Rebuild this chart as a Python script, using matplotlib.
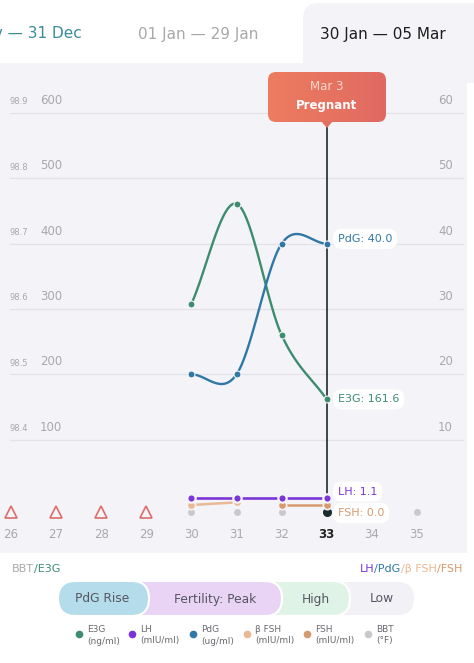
import numpy as np
import matplotlib
matplotlib.use('Agg')
import matplotlib.pyplot as plt
from matplotlib.patches import FancyBboxPatch, Rectangle, Polygon
from matplotlib.colors import LinearSegmentedColormap
from matplotlib.transforms import blended_transform_factory

plt.rcParams['font.family'] = ['DejaVu Sans']

# ---- data ----
days = [26, 27, 28, 29, 30, 31, 32, 33, 34, 35]
today = 33
today_label = 'Mar 3'
status = 'Pregnant'

hormone_days = [30, 31, 32, 33]
e3g = [308, 461, 260, 161.6]        # ng/ml, left axis
pdg = [20.0, 20.0, 40.0, 40.0]      # ug/ml, right axis
lh = [1.1, 1.1, 1.1, 1.1]           # mIU/ml, right axis
bfsh_days = [30, 31]
bfsh = [0.0, 0.4]
fsh_days = [32, 33]
fsh = [0.0, 0.0]
bbt_days = [30, 31, 32, 33, 35]     # logged, no temperature value
missing_days = [26, 27, 28, 29]

e3g_ticks = [100, 200, 300, 400, 500, 600]
bbt_ticks = [98.4, 98.5, 98.6, 98.7, 98.8, 98.9]
pdg_ticks = [10, 20, 30, 40, 50, 60]

date_ranges = ['Nov — 31 Dec', '01 Jan — 29 Jan', '30 Jan — 05 Mar']
phases = ['PdG Rise', 'Fertility: Peak', 'High', 'Low']
legend_names = ['E3G', 'LH', 'PdG', 'β FSH', 'FSH', 'BBT']
legend_units = ['(ng/ml)', '(mIU/ml)', '(ug/ml)', '(mIU/ml)', '(mIU/ml)', '(°F)']

# ---- colours ----
C_E3G = '#3d8c6e'
C_LH = '#7b35d6'
C_PDG = '#2f78a6'
C_BFSH = '#eab894'
C_FSH = '#d69a6e'
C_BBT = '#c9c9cd'
C_TODAY = '#1c2b2b'
C_TRI = '#dd6b6b'
C_PANEL = '#f4f4f8'
C_GRID = '#e2e2e7'
C_TICK = '#a9a9ad'
legend_colors = [C_E3G, C_LH, C_PDG, C_BFSH, C_FSH, C_BBT]
phase_colors = ['#b5dcea', '#e9d4f6', '#dff4e6', '#f1f1f6']

# ---- layout (pixels) ----
W, H = 474, 663
AX_TOP, AX_BOT = 65, 553
X0, DX = 11, 45.11      # pixel of day 26, pixels per day
Y0, DY = 505, 0.6533    # pixel of zero, pixels per E3G unit
ROW = -11               # marker row under the zero line


def smooth(xs, ys, n=40):
    xs = np.asarray(xs, float)
    ys = np.asarray(ys, float)
    m = np.gradient(ys, xs)
    out_x, out_y = [], []
    for i in range(len(xs) - 1):
        h = xs[i + 1] - xs[i]
        t = np.linspace(0, 1, n)
        h00 = 2 * t**3 - 3 * t**2 + 1
        h10 = t**3 - 2 * t**2 + t
        h01 = -2 * t**3 + 3 * t**2
        h11 = t**3 - t**2
        out_x.append(xs[i] + t * h)
        out_y.append(h00 * ys[i] + h10 * h * m[i] + h01 * ys[i + 1] + h11 * h * m[i + 1])
    return np.concatenate(out_x), np.concatenate(out_y)


fig = plt.figure(figsize=(W / 100, H / 100), dpi=100)
fig.patch.set_facecolor('white')

bg = fig.add_axes([0, 0, 1, 1])
bg.set_xlim(0, W)
bg.set_ylim(H, 0)
bg.axis('off')

# tab + panel
bg.add_patch(FancyBboxPatch((303, 3), 200, 80, boxstyle='round,pad=0,rounding_size=16',
                            fc=C_PANEL, ec='none'))
bg.add_patch(Rectangle((0, 63), 467, AX_BOT - 63, fc=C_PANEL, ec='none'))

# date range header
bg.text(82, 34, date_ranges[0], ha='right', va='center', fontsize=11, color='#3a8a9c')
bg.text(138, 34, date_ranges[1], ha='left', va='center', fontsize=11, color='#a8a8a8')
bg.text(320, 34, date_ranges[2], ha='left', va='center', fontsize=11, color='#1e1e1e')

ax = fig.add_axes([0, 1 - AX_BOT / H, 1, (AX_BOT - AX_TOP) / H])
ax.set_zorder(1)
ax.patch.set_visible(False)
ax.set_xlim(26 - X0 / DX, 26 + (W - X0) / DX)
ax.set_ylim(-(AX_BOT - Y0) / DY, (Y0 - AX_TOP) / DY)
ax.axis('off')
ax2 = ax.twinx()
ax2.set_ylim(ax.get_ylim()[0] / 10, ax.get_ylim()[1] / 10)
ax2.axis('off')

px_y = blended_transform_factory(bg.transData, ax.transData)
x_px = blended_transform_factory(ax.transData, bg.transData)

for v, b, p in zip(e3g_ticks, bbt_ticks, pdg_ticks):
    ax.axhline(v, xmin=10 / W, xmax=463 / W, color=C_GRID, lw=0.9, zorder=0)
    ax.text(10, v + 17, f'{b:.1f}', transform=px_y, fontsize=6, color=C_TICK, va='center')
    ax.text(40, v + 19, str(v), transform=px_y, fontsize=8.5, color=C_TICK, va='center')
    ax.text(453, v + 19, str(p), transform=px_y, fontsize=8.5, color=C_TICK, va='center', ha='right')

for d in days:
    bold = d == today
    ax.text(d, 535, str(d), transform=x_px, ha='center', va='center', fontsize=8.5,
            color='#222222' if bold else C_TICK, fontweight='bold' if bold else 'normal')

# missing data markers and BBT placeholders
ax.plot(missing_days, [ROW] * len(missing_days), ls='none', marker='^', ms=8, mfc='none',
        mec=C_TRI, mew=1.2)
ax.plot([d for d in bbt_days if d != today], [ROW] * (len(bbt_days) - 1), ls='none',
        marker='o', ms=5, mfc=C_BBT, mec='none')

# today line
ax.vlines(today, ROW, (Y0 - 126) / DY, color=C_TODAY, lw=1.2, zorder=2)
ax.plot([today], [ROW], 'o', ms=5.5, color=C_TODAY, zorder=6)

# hormone curves
sx, sy = smooth(hormone_days, e3g)
ax.plot(sx, sy, color=C_E3G, lw=1.7, zorder=3, solid_capstyle='round')
ax.plot(hormone_days, e3g, 'o', ms=5, mfc=C_E3G, mec=C_PANEL, mew=0.8, zorder=4)

sx, sy = smooth(hormone_days, pdg)
ax2.plot(sx, sy, color=C_PDG, lw=1.7, zorder=3, solid_capstyle='round')
ax2.plot(hormone_days, pdg, 'o', ms=5, mfc=C_PDG, mec=C_PANEL, mew=0.8, zorder=4)

ax2.plot(bfsh_days, bfsh, '-o', color=C_BFSH, lw=1.8, ms=6, mec=C_PANEL, mew=1.2, zorder=4)
ax2.plot(fsh_days, fsh, '-o', color=C_FSH, lw=1.8, ms=6, mec=C_PANEL, mew=1.2, zorder=4)
ax2.plot(hormone_days, lh, '-o', color=C_LH, lw=1.9, ms=6, mec=C_PANEL, mew=1.6, zorder=5)

# value labels at today
box = dict(boxstyle='round,pad=0.45,rounding_size=0.8', fc='white', ec='none')
lab = dict(textcoords='offset points', ha='left', va='center', fontsize=8, bbox=box, zorder=7)
ax2.annotate(f'PdG: {pdg[-1]:.1f}', (today, pdg[-1]), xytext=(8, 3.5), color=C_PDG, **lab)
ax2.annotate(f'E3G: {e3g[-1]:.1f}', (today, e3g[-1] / 10), xytext=(8, 0), color=C_E3G, **lab)
ax2.annotate(f'LH: {lh[-1]:.1f}', (today, lh[-1]), xytext=(8, 4.5), color=C_LH, **lab)
ax2.annotate(f'FSH: {fsh[-1]:.1f}', (today, fsh[-1]), xytext=(8, -5.8), color=C_FSH, **lab)

# tooltip on top
top = fig.add_axes([0, 0, 1, 1])
top.set_zorder(3)
top.patch.set_visible(False)
top.axis('off')
tip = FancyBboxPatch((268, 72), 118, 50, boxstyle='round,pad=0,rounding_size=8',
                     fc='none', ec='none')
top.add_patch(tip)
grad = LinearSegmentedColormap.from_list('tip', ['#ed7c5f', '#e06a62'])
im = top.imshow(np.linspace(0, 1, 100)[None, :], cmap=grad, extent=[268, 386, 122, 72],
                aspect='auto')
im.set_clip_path(tip)
top.add_patch(Polygon([[321, 121], [333, 121], [327, 128]], closed=True, fc='#e5705f', ec='none'))
top.set_xlim(0, W)
top.set_ylim(H, 0)
top.text(327, 86, today_label, ha='center', va='center', fontsize=8.5, color='#fcd8cc')
top.text(327, 105, status, ha='center', va='center', fontsize=8.5, color='white', fontweight='bold')

# axis series captions under panel
t = bg.text(12, 569, 'BBT', fontsize=8, color=C_TICK, va='center')
bg.annotate('/E3G', xy=(1, 0), xycoords=t, va='bottom', fontsize=8, color=C_E3G)
parts = [('/FSH', C_FSH), ('/β FSH', C_BFSH), ('/PdG', C_PDG), ('LH', C_LH)]
t = bg.text(462, 569, parts[0][0], fontsize=8, color=parts[0][1], va='center', ha='right')
for s, c in parts[1:]:
    t = bg.annotate(s, xy=(0, 0), xycoords=t, va='bottom', ha='right', fontsize=8, color=c)

# phase pills (drawn right to left so each overlaps the next)
pill_x = [58, 114, 247, 315]
pill_end = [149, 282, 350, 415]
text_x = [102, 215, 316, 382]
for i in range(len(phases) - 1, -1, -1):
    bg.add_patch(FancyBboxPatch((pill_x[i], 581), pill_end[i] - pill_x[i], 35,
                                boxstyle='round,pad=0,rounding_size=17.5',
                                fc=phase_colors[i], ec='white', lw=1.5))
    bg.text(text_x[i], 599, phases[i], ha='center', va='center', fontsize=8.8, color='#565663')

# legend row
dot_x = [79, 132, 193, 247, 307, 368]
for i in range(len(legend_names)):
    bg.plot(dot_x[i], 634, 'o', ms=4.5, color=legend_colors[i])
    bg.text(dot_x[i] + 8, 629, legend_names[i], fontsize=6.5, color='#6a6a70', va='center')
    bg.text(dot_x[i] + 8, 641, legend_units[i], fontsize=6.5, color='#6a6a70', va='center')

fig.savefig('out.png', dpi=100)
